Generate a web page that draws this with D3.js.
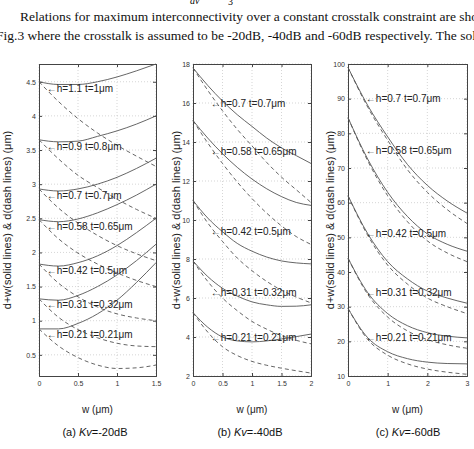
<!DOCTYPE html>
<html><head><meta charset="utf-8">
<script src="https://cdn.jsdelivr.net/npm/d3@7"></script>
<style>body{margin:0;background:#fff}</style></head>
<body><svg id="c" width="474" height="449"></svg>
<script>
// Panel (a) Kv=-20dB
const wA = [0,0.25,0.5,0.75,1,1.25,1.5];
const labelsA = ["h=1.1 t=1μm","h=0.9 t=0.8μm","h=0.7 t=0.7μm","h=0.58 t=0.65μm","h=0.42 t=0.5μm","h=0.31 t=0.32μm","h=0.21 t=0.21μm"];
const solidA = [
 [4.5,4.46,4.46,4.5,4.57,4.66,4.76],
 [3.65,3.62,3.63,3.7,3.78,3.88,4.0],
 [2.93,2.9,2.93,3.0,3.1,3.23,3.38],
 [2.48,2.45,2.49,2.58,2.7,2.84,3.0],
 [1.83,1.8,1.85,1.95,2.1,2.29,2.5],
 [1.32,1.3,1.37,1.5,1.67,1.88,2.12],
 [0.88,0.88,0.96,1.1,1.3,1.56,1.85]];
const dashA = [
 [4.5,4.21,3.96,3.75,3.57,3.41,3.26],
 [3.65,3.37,3.13,2.95,2.78,2.63,2.5],
 [2.93,2.65,2.43,2.25,2.1,1.98,1.88],
 [2.48,2.2,1.99,1.83,1.7,1.59,1.5],
 [1.83,1.55,1.35,1.2,1.1,1.04,1.0],
 [1.32,1.05,0.87,0.75,0.67,0.63,0.62],
 [0.88,0.63,0.46,0.35,0.3,0.31,0.35]];
const labelYA = [4.4,3.55,2.83,2.38,1.73,1.23,0.8];
// Panel (b) Kv=-40dB
const wB = [0,0.25,0.5,0.75,1,1.25,1.5,1.75,2];
const labelsB = ["h=0.7 t=0.7μm","h=0.58 t=0.65μm","h=0.42 t=0.5μm","h=0.31 t=0.32μm","h=0.21 t=0.21μm"];
const solidB = [
 [17.8,16.9,16.1,15.4,14.8,14.2,13.7,13.3,12.9],
 [15.1,14.2,13.4,12.7,12.1,11.6,11.2,10.9,10.75],
 [11.0,10.1,9.4,8.8,8.4,8.1,7.9,7.8,7.75],
 [7.9,7.1,6.5,6.1,5.8,5.65,5.57,5.58,5.65],
 [5.25,4.5,4.0,3.8,3.75,3.8,3.9,4.02,4.15]];
const dashB = [
 [17.8,16.65,15.6,14.65,13.8,12.95,12.2,11.55,10.9],
 [15.1,13.95,12.9,11.95,11.1,10.35,9.7,9.15,8.75],
 [11.0,9.85,8.9,8.05,7.4,6.85,6.4,6.05,5.75],
 [7.9,6.85,6.0,5.35,4.8,4.4,4.07,3.83,3.65],
 [5.25,4.25,3.5,3.05,2.75,2.55,2.4,2.27,2.15]];
const labelYB = [16,13.5,9.4,6.3,4.0];
// Panel (c) Kv=-60dB
const wC = [0,0.5,1,1.5,2,2.5,3];
const labelsC = ["h=0.7 t=0.7μm","h=0.58 t=0.65μm","h=0.42 t=0.5μm","h=0.31 t=0.32μm","h=0.21 t=0.21μm"];
const solidC = [
 [99,88,79,71,65,60.5,57],
 [84.5,72.5,63,56,51,48,46],
 [62,51,43,38,34.5,32.5,31],
 [44,34,28,24.5,22.5,21.5,21],
 [29.5,21,17,15,14,13.6,13.5]];
const dashC = [
 [99,87.5,78,69.5,63,58,54],
 [84.5,72,62,54.5,49,45.5,43],
 [62,50.5,42,36.5,32.5,30,28],
 [44,33.5,27,23,20.5,19,18],
 [29.5,20.5,16,13.5,12,11.1,10.5]];
const labelYC = [90,75,51,34,21];

const panels = [
 {w:wA,s:solidA,d:dashA,lab:labelsA,ly:labelYA,lx:0.1,x0:39,x1:156,xd:[0,1.5],yd:[0.19,4.76],xt:[0,0.5,1,1.5],yt:[0.5,1,1.5,2,2.5,3,3.5,4,4.5],tx:11,cap:"(a) ",capx:95,kv:"-20dB"},
 {w:wB,s:solidB,d:dashB,lab:labelsB,ly:labelYB,lx:0.3,x0:193,x1:311,xd:[0,2],yd:[2,18],xt:[0,0.5,1,1.5,2],yt:[2,4,6,8,10,12,14,16,18],tx:180,cap:"(b) ",capx:250,kv:"-40dB"},
 {w:wC,s:solidC,d:dashC,lab:labelsC,ly:labelYC,lx:0.45,x0:348,x1:467,xd:[0,3],yd:[10,100],xt:[0,1,2,3],yt:[10,20,30,40,50,60,70,80,90,100],tx:334,cap:"(c) ",capx:408,kv:"-60dB"}];

const svg = d3.select("#c");
const yTop=64, yBot=376, col="#555";
const fmt = v => d3.format("~g")(v);
panels.forEach(p=>{
  const x=d3.scaleLinear().domain(p.xd).range([p.x0,p.x1]);
  const y=d3.scaleLinear().domain(p.yd).range([yBot,yTop]);
  const g=svg.append("g");
  g.selectAll(".gx").data(p.xt).join("line").attr("x1",d=>x(d)).attr("x2",d=>x(d)).attr("y1",yTop).attr("y2",yBot)
   .attr("stroke","#bbb").attr("stroke-width",0.6).attr("stroke-dasharray","1,2");
  g.selectAll(".gy").data(p.yt).join("line").attr("y1",d=>y(d)).attr("y2",d=>y(d)).attr("x1",p.x0).attr("x2",p.x1)
   .attr("stroke","#bbb").attr("stroke-width",0.6).attr("stroke-dasharray","1,2");
  g.append("g").attr("transform",`translate(0,${yBot})`).call(d3.axisBottom(x).tickValues(p.xt).tickSize(-3).tickPadding(5).tickFormat(fmt));
  g.append("g").attr("transform",`translate(${p.x0},0)`).call(d3.axisLeft(y).tickValues(p.yt).tickSize(-3).tickPadding(3).tickFormat(fmt));
  g.append("g").attr("transform",`translate(0,${yTop})`).call(d3.axisTop(x).tickValues(p.xt).tickSize(-3).tickFormat(""));
  g.append("g").attr("transform",`translate(${p.x1},0)`).call(d3.axisRight(y).tickValues(p.yt).tickSize(-3).tickFormat(""));
  g.selectAll(".domain").attr("stroke","#444");
  g.selectAll(".tick line").attr("stroke","#444");
  g.selectAll(".tick text").attr("font-family","Liberation Sans, Arial").attr("font-size",7).attr("fill","#333");
  const line=d3.line().x((d,i)=>x(p.w[i])).y(d=>y(d)).curve(d3.curveMonotoneX);
  p.s.forEach(s=>g.append("path").attr("d",line(s)).attr("fill","none").attr("stroke",col).attr("stroke-width",0.9));
  p.d.forEach(s=>g.append("path").attr("d",line(s)).attr("fill","none").attr("stroke",col).attr("stroke-width",0.9).attr("stroke-dasharray","4,3"));
  p.lab.forEach((t,i)=>g.append("text").attr("x",x(p.lx)).attr("y",y(p.ly[i])+3.5)
    .attr("font-family","Liberation Sans, Arial").attr("font-size",10).attr("fill","#222").text("←"+t));
  g.append("text").attr("transform",`translate(${p.tx},${(yTop+yBot)/2}) rotate(-90)`).attr("text-anchor","middle")
   .attr("font-family","Liberation Sans, Arial").attr("font-size",11).attr("fill","#222").text("d+w(solid lines) & d(dash lines) (μm)");
  g.append("text").attr("x",(p.x0+p.x1)/2).attr("y",413).attr("text-anchor","middle")
   .attr("font-family","Liberation Sans, Arial").attr("font-size",10).attr("fill","#222").text("w (μm)");
  const c=g.append("text").attr("x",p.capx).attr("y",436).attr("text-anchor","middle")
   .attr("font-family","Liberation Sans, Arial").attr("font-size",11).attr("fill","#111");
  c.append("tspan").text(p.cap); c.append("tspan").attr("font-style","italic").text("Kv"); c.append("tspan").text("="+p.kv);
});
const serif="Liberation Serif, Times New Roman";
svg.append("text").attr("x",190).attr("y",4).attr("font-family",serif).attr("font-size",10).attr("font-style","italic").text("dv");
svg.append("text").attr("x",228).attr("y",5).attr("font-family",serif).attr("font-size",10).text("3");
svg.append("text").attr("x",20).attr("y",21).attr("font-family",serif).attr("font-size",13.5).attr("fill","#111")
 .text("Relations for maximum interconnectivity over a constant crosstalk constraint are shown in");
svg.append("text").attr("x",-4).attr("y",40).attr("font-family",serif).attr("font-size",13.5).attr("fill","#111")
 .text("Fig.3 where the crosstalk is assumed to be -20dB, -40dB and -60dB respectively.  The solid lines");
</script></body></html>
